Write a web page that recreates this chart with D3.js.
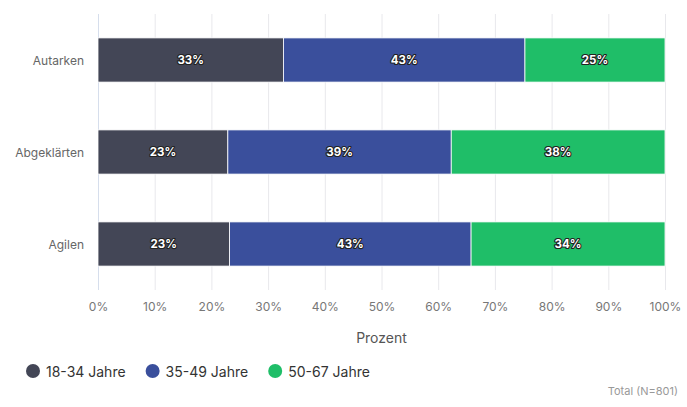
<!DOCTYPE html>
<html><head><meta charset="utf-8">
<script src="https://cdn.jsdelivr.net/npm/d3@7"></script>
<style>body{margin:0;background:#fff;font-family:Inter,"Noto Sans",sans-serif;}</style>
</head><body>
<svg id="c" width="687" height="407"></svg>
<script>
const categories = ["Autarken", "Abgeklärten", "Agilen"];
const seriesNames = ["18-34 Jahre", "35-49 Jahre", "50-67 Jahre"];
const seriesColors = ["#434656", "#3a4f9c", "#1fbe68"];
const s1834 = [32.7, 22.9, 23.2];
const s3549 = [42.6, 39.4, 42.6];
const s5067 = [24.7, 37.7, 34.2];
const xTicks = [0,10,20,30,40,50,60,70,80,90,100];
const axisTitle = "Prozent";
const footnote = "Total (N=801)";

const svg = d3.select("#c");
const x = d3.scaleLinear().domain([0,100]).range([98,665]);
const y = d3.scaleBand().domain(categories).range([14,290]).paddingInner(0.52).paddingOuter(0.26);

// gridlines
svg.append("g").selectAll("line").data(xTicks).join("line")
  .attr("x1", d=>x(d)+0.5).attr("x2", d=>x(d)+0.5).attr("y1",14).attr("y2",290)
  .attr("stroke", d=>d===0?"#d6deec":"#e8e8ec").attr("stroke-width",1);

const data = categories.map((c,i)=>({cat:c, vals:[s1834[i], s3549[i], s5067[i]]}));
const stackData = data.map(d=>{ let acc=0; return d.vals.map((v,j)=>{const s={cat:d.cat,j,v,x0:acc,x1:acc+v}; acc+=v; return s;}); }).flat();

svg.append("g").selectAll("rect").data(stackData).join("rect")
  .attr("x", d=>x(d.x0)).attr("width", d=>x(d.x1)-x(d.x0))
  .attr("y", d=>y(d.cat)).attr("height", y.bandwidth())
  .attr("fill", d=>seriesColors[d.j]).attr("stroke","#fff").attr("stroke-width",0.8);

svg.append("g").selectAll("text").data(stackData).join("text")
  .attr("x", d=>x((d.x0+d.x1)/2)).attr("y", d=>y(d.cat)+y.bandwidth()/2)
  .attr("text-anchor","middle").attr("dominant-baseline","central")
  .attr("font-size",11.5).attr("font-weight",700).attr("fill","#fff")
  .attr("stroke","#222").attr("stroke-width",2.2).attr("paint-order","stroke").attr("stroke-linejoin","round")
  .text(d=>Math.round(d.v)+"%");

// category labels
svg.append("g").selectAll("text").data(categories).join("text")
  .attr("x",84).attr("y",d=>y(d)+y.bandwidth()/2)
  .attr("text-anchor","end").attr("dominant-baseline","central")
  .attr("font-size",12).attr("fill","#666").text(d=>d);

// x axis
const xa = svg.append("g").attr("transform","translate(0,290)")
  .call(d3.axisBottom(x).tickValues(xTicks).tickFormat(d=>d+"%").tickSize(0).tickPadding(12));
xa.select(".domain").remove();
xa.selectAll("text").attr("font-size",12).attr("fill","#777").attr("font-family","Inter,sans-serif");

svg.append("text").attr("x",(x(0)+x(100))/2).attr("y",343).attr("text-anchor","middle")
  .attr("font-size",14).attr("fill","#555").text(axisTitle);

// legend
let lx = 33;
const lg = svg.append("g");
seriesNames.forEach((n,i)=>{
  lg.append("circle").attr("cx",lx).attr("cy",371).attr("r",7).attr("fill",seriesColors[i]);
  const t = lg.append("text").attr("x",lx+13).attr("y",371).attr("dominant-baseline","central")
    .attr("font-size",14).attr("fill","#333").text(n);
  lx += t.node().getComputedTextLength() + 13 + 27;
});

svg.append("text").attr("x",678).attr("y",395).attr("text-anchor","end")
  .attr("font-size",11).attr("fill","#999").text(footnote);
</script>
</body></html>
